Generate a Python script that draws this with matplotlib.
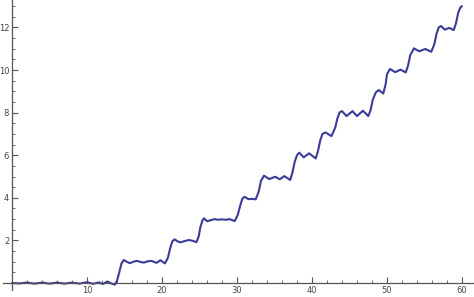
import matplotlib
matplotlib.use("Agg")
import matplotlib.pyplot as plt
from matplotlib.ticker import FixedLocator

# Curve values
t_vals = [0, 1.0, 2.0, 3.0, 4.0, 5.0, 6.0, 7.0, 8.0, 9.0, 10.0, 10.8, 11.6, 12.1, 12.7, 13.3, 13.7,
          14.0, 14.3, 14.6, 14.9, 15.3, 15.7, 16.2, 16.7, 17.2, 17.6, 18.1, 18.6, 19.0, 19.3, 19.8, 20.4,
          20.8, 21.1, 21.4, 21.7, 22.1, 22.5, 23.0, 23.6, 24.1, 24.6,
          24.9, 25.1, 25.4, 25.6, 26.0, 26.5, 27.0, 27.5, 28.0, 28.5, 29.0, 29.7,
          30.1, 30.4, 30.7, 31.0, 31.5, 32.0, 32.5,
          32.9, 33.2, 33.6, 34.3, 35.1, 35.7, 36.3, 37.1,
          37.4, 37.7, 38.0, 38.3, 38.9, 39.6, 40.5,
          40.8, 41.1, 41.4, 41.8, 42.6,
          43.1, 43.4, 43.7, 44.0, 44.6, 45.4, 46.0, 46.8, 47.5,
          47.8, 48.1, 48.5, 48.9, 49.5,
          49.8, 50.0, 50.4, 51.1, 51.8, 52.5,
          52.8, 53.1, 53.6, 54.3, 55.1, 55.9,
          56.3, 56.6, 56.9, 57.2, 57.7, 58.3, 58.9,
          59.2, 59.5, 59.8, 60.0]
n_vals = [0.0, -0.02, 0.02, -0.03, 0.02, -0.03, 0.02, -0.03, 0.02, -0.03, 0.04, -0.04, 0.03, -0.05, 0.07, -0.03, -0.08,
          0.1, 0.5, 0.92, 1.08, 1.0, 0.93, 1.0, 1.04, 0.98, 0.96, 1.02, 1.04, 0.98, 0.95, 1.07, 0.92,
          1.2, 1.65, 1.97, 2.05, 1.95, 1.91, 1.97, 2.02, 1.98, 1.92,
          2.2, 2.6, 2.95, 3.04, 2.9, 2.95, 3.0, 2.97, 2.99, 2.97, 3.0, 2.91,
          3.2, 3.6, 3.95, 4.05, 3.94, 3.95, 3.93,
          4.3, 4.8, 5.04, 4.88, 4.99, 4.87, 5.02, 4.84,
          5.2, 5.7, 6.0, 6.12, 5.9, 6.09, 5.85,
          6.2, 6.7, 7.0, 7.07, 6.9,
          7.3, 7.75, 8.02, 8.07, 7.84, 8.07, 7.84, 8.09, 7.84,
          8.1, 8.6, 8.95, 9.06, 8.9,
          9.3, 9.8, 10.05, 9.9, 10.02, 9.89,
          10.2, 10.7, 11.02, 10.88, 10.99, 10.86,
          11.2, 11.7, 12.0, 12.07, 11.9, 11.98, 11.88,
          12.2, 12.7, 12.95, 13.0]

x_major = [10, 20, 30, 40, 50, 60]
y_major = [2, 4, 6, 8, 10, 12]
x_minor = [2, 4, 6, 8, 12, 14, 16, 18, 22, 24, 26, 28, 32, 34, 36, 38, 42, 44, 46, 48, 52, 54, 56, 58]
y_minor = [0.5, 1, 1.5, 2.5, 3, 3.5, 4.5, 5, 5.5, 6.5, 7, 7.5, 8.5, 9, 9.5, 10.5, 11, 11.5, 12.5, 13]

fig = plt.figure(figsize=(4.74, 2.97), dpi=100)
ax = fig.add_axes([0, 0, 1, 1])
ax.set_facecolor("white")

ax.plot(t_vals, n_vals, color="#3b3b98", lw=1.5, solid_joinstyle="round", solid_capstyle="round")

ax.set_xlim(-1.6, 61.6)
ax.set_ylim(-0.657, 13.29)

for s in ["top", "right"]:
    ax.spines[s].set_visible(False)
ax.spines["left"].set_position(("data", 0))
ax.spines["bottom"].set_position(("data", 0))
ax.spines["left"].set_bounds(-0.35, 13.29)
ax.spines["bottom"].set_bounds(-1.2, 61.6)
axis_col = "#555555"
for s in ["left", "bottom"]:
    ax.spines[s].set_color(axis_col)
    ax.spines[s].set_linewidth(0.9)

ax.set_xticks(x_major)
ax.set_xticklabels([str(v) for v in x_major])
ax.set_yticks(y_major)
ax.set_yticklabels([str(v) for v in y_major])
ax.xaxis.set_minor_locator(FixedLocator(x_minor))
ax.yaxis.set_minor_locator(FixedLocator(y_minor))

ax.tick_params(axis="x", which="major", direction="in", length=4, width=0.8, color=axis_col,
               labelsize=6, labelcolor="#444444", pad=2)
ax.tick_params(axis="x", which="minor", direction="in", length=2.2, width=0.6, color=axis_col)
ax.tick_params(axis="y", which="major", direction="in", length=4, width=0.8, color=axis_col,
               labelsize=6, labelcolor="#444444", pad=2)
ax.tick_params(axis="y", which="minor", direction="in", length=2.2, width=0.6, color=axis_col)

fig.savefig("out.png", dpi=100, facecolor="white")
